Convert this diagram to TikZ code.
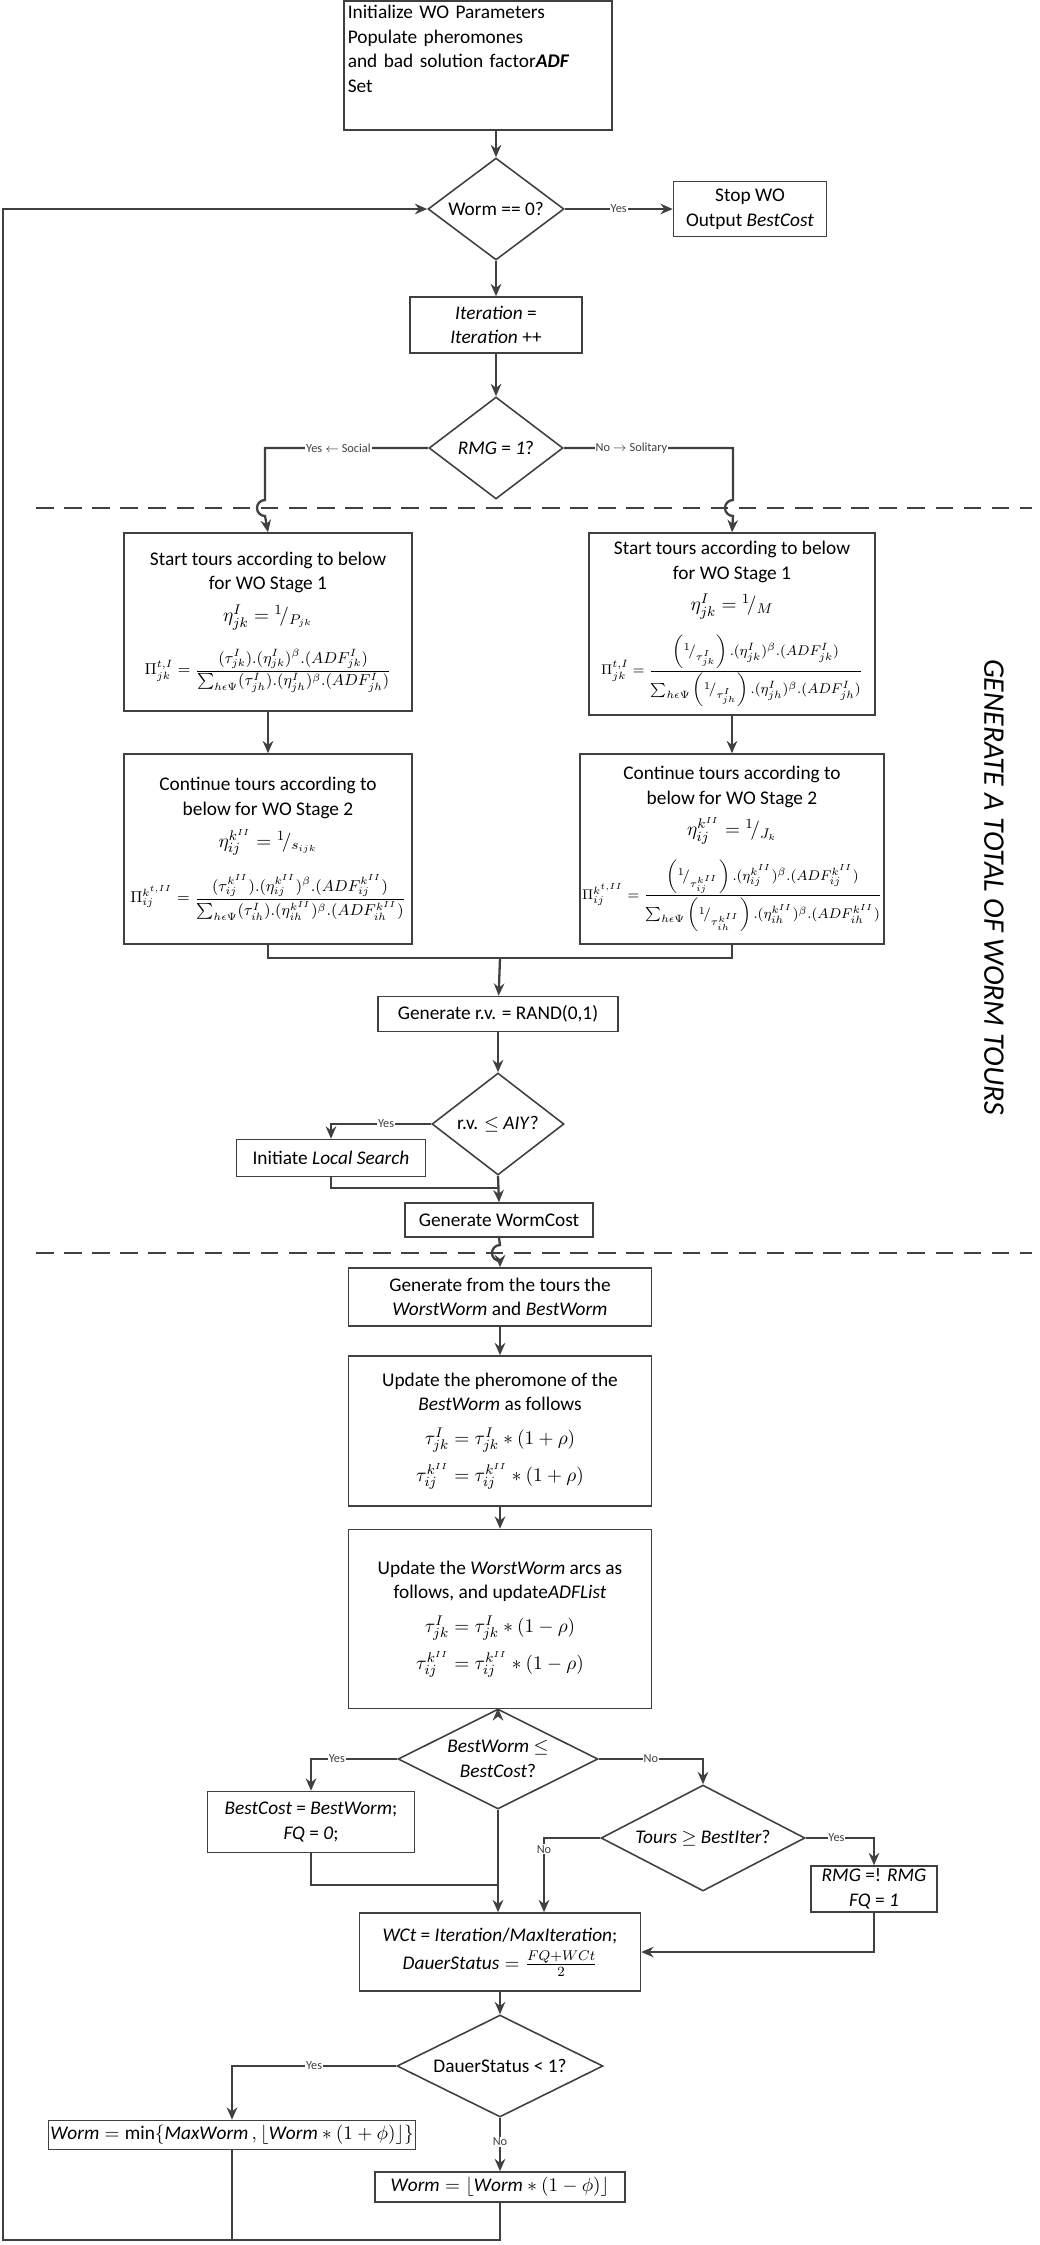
\documentclass[tikz,border=0pt]{standalone}
\usepackage{amsmath,amssymb}
\usepackage{fontspec}
\setmainfont{Carlito}
\usetikzlibrary{shapes.geometric,arrows.meta,calc}
\definecolor{ln}{HTML}{404040}
\tikzset{
  box/.style={draw=ln,line width=0.9pt,rectangle,align=center,inner sep=1pt,font=\fontsize{11}{14}\selectfont},
  dec/.style={draw=ln,line width=0.9pt,diamond,align=center,inner sep=0pt,aspect=1.3,font=\fontsize{11}{14}\selectfont},
  con/.style={draw=ln,line width=1.3pt},
  arr/.style={con,-{Stealth[length=7pt,width=6pt]}},
  lbl/.style={fill=white,inner sep=0.5pt,font=\fontsize{7}{8}\selectfont,text=ln},
  sepline/.style={draw=ln,line width=1.1pt,dash pattern=on 10pt off 6pt}
}
\begin{document}
\begin{tikzpicture}[x=0.02cm,y=-0.02cm]
\useasboundingbox (0,0) rectangle (1040,2245);
% separators
\draw[sepline] (36,508) -- (1032,508);
\draw[sepline] (36,1253) -- (1032,1253);
\node[rotate=-90,font=\fontsize{17}{20}\selectfont\itshape] (title) at (994,887) {GENERATE A TOTAL OF WORM TOURS};

\node[box,align=left,text width=5.2cm,minimum width=5.36cm,minimum height=2.58cm,anchor=north west] (init) at (343,0)
  {\parbox[t][2.4cm][t]{5.2cm}{Initialize WO Parameters\\Populate pheromones\\and bad solution factor\textit{\textbf{ADF}}\\Set}};
\node[dec,minimum width=2.72cm,minimum height=2.04cm] (w0) at (496,209) {Worm == 0?};
\node[box,minimum width=3.06cm,minimum height=1.1cm] (stop) at (750,209) {Stop WO\\Output \textit{BestCost}};
\node[box,minimum width=3.44cm,minimum height=1.12cm] (iter) at (496,325) {\textit{Iteration} =\\\textit{Iteration} ++};
\node[dec,minimum width=2.68cm,minimum height=2.04cm] (rmg) at (496,448) {\textit{RMG} = \textit{1}?};

\node[box,minimum width=5.76cm,minimum height=3.56cm] (s1l) at (268,622)
 {Start tours according to below\\for WO Stage 1\\[4pt]
  $\eta^{I}_{jk}={}^{1}\!/_{P_{jk}}$\\[10pt]
  {\small$\Pi^{t,I}_{jk}=\dfrac{(\tau^{I}_{jk}).(\eta^{I}_{jk})^{\beta}.(ADF^{I}_{jk})}{\sum_{h\epsilon\Psi}(\tau^{I}_{jh}).(\eta^{I}_{jh})^{\beta}.(ADF^{I}_{jh})}$}};
\node[box,minimum width=5.76cm,minimum height=3.8cm] (s2l) at (268,849)
 {Continue tours according to\\below for WO Stage 2\\[4pt]
  $\eta^{k^{II}}_{ij}={}^{1}\!/_{s_{ijk}}$\\[10pt]
  {\small$\Pi^{k^{t,II}}_{ij}=\dfrac{(\tau^{k^{II}}_{ij}).(\eta^{k^{II}}_{ij})^{\beta}.(ADF^{k^{II}}_{ij})}{\sum_{h\epsilon\Psi}(\tau^{I}_{ih}).(\eta^{k^{II}}_{ih})^{\beta}.(ADF^{k^{II}}_{ih})}$}};
\node[box,minimum width=5.72cm,minimum height=3.64cm] (s1r) at (732,624)
 {Start tours according to below\\for WO Stage 1\\[4pt]
  $\eta^{I}_{jk}={}^{1}\!/_{M}$\\[8pt]
  {\footnotesize$\Pi^{t,I}_{jk}=\dfrac{\left({}^{1}\!/_{\tau^{I}_{jk}}\right).(\eta^{I}_{jk})^{\beta}.(ADF^{I}_{jk})}{\sum_{h\epsilon\Psi}\left({}^{1}\!/_{\tau^{I}_{jh}}\right).(\eta^{I}_{jh})^{\beta}.(ADF^{I}_{jh})}$}};
\node[box,minimum width=5.72cm,minimum height=3.8cm] (s2r) at (732,849)
 {Continue tours according to\\below for WO Stage 2\\[4pt]
  $\eta^{k^{II}}_{ij}={}^{1}\!/_{J_{k}}$\\[8pt]
  {\footnotesize$\Pi^{k^{t,II}}_{ij}=\dfrac{\left({}^{1}\!/_{\tau^{k^{II}}_{ij}}\right).(\eta^{k^{II}}_{ij})^{\beta}.(ADF^{k^{II}}_{ij})}{\sum_{h\epsilon\Psi}\left({}^{1}\!/_{\tau^{k^{II}}_{ih}}\right).(\eta^{k^{II}}_{ih})^{\beta}.(ADF^{k^{II}}_{ih})}$}};

\node[box,minimum width=4.8cm,minimum height=0.7cm] (rv) at (498,1014) {Generate r.v. = RAND(0,1)};
\node[dec,minimum width=2.64cm,minimum height=2.04cm] (aiy) at (498,1124) {r.v. $\leq$ \textit{AIY}?};
\node[box,minimum width=3.78cm,minimum height=0.74cm] (ls) at (331,1158) {Initiate \textit{Local Search}};
\node[box,minimum width=3.76cm,minimum height=0.68cm] (cost) at (499,1220) {Generate WormCost};

\node[box,minimum width=6.06cm,minimum height=1.16cm] (gen) at (500,1297) {Generate from the tours the\\\textit{WorstWorm} and \textit{BestWorm}};
\node[box,minimum width=6.06cm,minimum height=3cm] (upd) at (500,1431)
 {Update the pheromone of the\\\textit{BestWorm} as follows\\[5pt]
  $\tau^{I}_{jk}=\tau^{I}_{jk}*(1+\rho)$\\[5pt]
  $\tau^{k^{II}}_{ij}=\tau^{k^{II}}_{ij}*(1+\rho)$};
\node[box,minimum width=6.06cm,minimum height=3.58cm] (wst) at (500,1619)
 {Update the \textit{WorstWorm} arcs as\\follows, and update\textit{ADFList}\\[5pt]
  $\tau^{I}_{jk}=\tau^{I}_{jk}*(1-\rho)$\\[5pt]
  $\tau^{k^{II}}_{ij}=\tau^{k^{II}}_{ij}*(1-\rho)$};

\node[dec,inner sep=-9pt,minimum width=4cm,minimum height=2cm] (bw) at (498,1759) {\textit{BestWorm} $\leq$\\\textit{BestCost}?};
\node[box,minimum width=4.14cm,minimum height=1.22cm] (bc) at (311,1822) {\textit{BestCost} = \textit{BestWorm};\\\textit{FQ} = \textit{0};};
\node[dec,inner sep=-6pt,minimum width=4.08cm,minimum height=2.12cm] (tr) at (703,1838) {\textit{Tours} $\geq$ \textit{BestIter}?};
\node[box,minimum width=2.52cm,minimum height=0.92cm] (rmgx) at (874,1889) {\textit{RMG} =! \textit{RMG}\\\textit{FQ} = \textit{1}};
\node[box,minimum width=5.62cm,minimum height=1.56cm] (wct) at (500,1952)
 {\textit{WCt} = \textit{Iteration}/\textit{MaxIteration};\\[2pt]
  $\mathit{DauerStatus}=\frac{FQ+WCt}{2}$};
\node[dec,inner sep=-4pt,minimum width=4.12cm,minimum height=2.04cm] (ds) at (500,2066) {DauerStatus < 1?};
\node[box,minimum width=7.2cm,minimum height=0.58cm] (wmin) at (232,2135)
 {$\mathit{Worm}=\min\{\mathit{MaxWorm}\,,\lfloor \mathit{Worm}*(1+\phi)\rfloor\}$};
\node[box,minimum width=5cm,minimum height=0.6cm] (wfl) at (500,2187)
 {$\mathit{Worm}=\lfloor \mathit{Worm}*(1-\phi)\rfloor$};

% helper points
\coordinate (loopbot) at (3,2240);
\coordinate (merge) at (500,958);
\coordinate (nobend) at (544,1838);
\coordinate (rmgin) at (874,1952);
\coordinate (bcjoin) at (498,1885);
\coordinate (lsjoin) at (499,1188);

% connectors
\draw[arr] (init.south -| w0.north) -- (w0.north);
\draw[arr] (w0.east) -- node[lbl]{Yes} (stop.west);
\draw[arr] (w0) -- (iter);
\draw[arr] (iter) -- (rmg);
\draw[arr] (rmg.west) -- node[lbl,pos=0.55]{Yes $\leftarrow$ Social} (265,448) -- (265,500)
  arc[start angle=90,end angle=270,radius=0.16cm] -- (s1l.north);
\draw[arr] (rmg.east) -- node[lbl,pos=0.4]{No $\rightarrow$ Solitary} (733,448) -- (733,500)
  arc[start angle=90,end angle=270,radius=0.16cm] -- (s1r.north);
\draw[arr] (s1l) -- (s2l);
\draw[arr] (s1r) -- (s2r);
\draw[con] (s2l.south) |- (merge) -| (s2r.south);
\draw[arr] (merge) -- (rv);
\draw[arr] (rv) -- (aiy);
\draw[arr] (aiy.west) -- node[lbl,pos=0.45]{Yes} (ls.north |- aiy.west) -- (ls.north);
\draw[con] (ls.south) |- (lsjoin);
\draw[arr] (aiy.south) -- (cost.north);
\draw[arr] (cost.south) -- (500,1245) arc[start angle=90,end angle=270,radius=0.16cm] -- (gen.north);
\draw[arr] (gen) -- (upd);
\draw[arr] (upd) -- (wst);
\draw[arr] (wst.south -| bw.north) -- (bw.north);
\draw[arr] (bw.west) -- node[lbl,pos=0.7]{Yes} (bc.north |- bw.west) -- (bc.north);
\draw[arr] (bw.east) -- node[lbl,pos=0.5]{No} (tr.north |- bw.east) -- (tr.north);
\draw[arr] (bw.south) -- (wct.north -| bw.south);
\draw[con] (bc.south) |- (bcjoin);
\draw[arr] (tr.west) -- (nobend) -- node[lbl,pos=0.15]{No} (wct.north -| nobend);
\draw[arr] (tr.east) -- node[lbl,pos=0.45]{Yes} (rmgx.north |- tr.east) -- (rmgx.north);
\draw[arr] (rmgx.south) -- (rmgin) -- (wct.east |- rmgin);
\draw[arr] (wct) -- (ds);
\draw[arr] (ds.west) -- node[lbl,pos=0.5]{Yes} (wmin.north |- ds.west) -- (wmin.north);
\draw[arr] (ds.south) -- node[lbl,pos=0.45]{No} (wfl.north);
\draw[con] (wmin.south) -- (wmin.south |- loopbot);
\draw[arr] (wfl.south) |- (loopbot) |- (w0.west);
\end{tikzpicture}
\end{document}
